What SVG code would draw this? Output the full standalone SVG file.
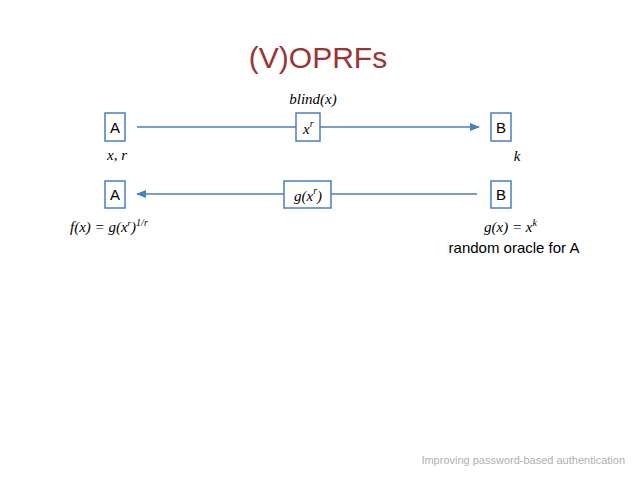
<svg xmlns="http://www.w3.org/2000/svg" width="638" height="478" viewBox="0 0 638 478">
<style>
.box{fill:#fff;stroke:#4a7fc1;stroke-width:1.5}
.lbl{font-family:"Liberation Sans",sans-serif;font-size:15px;fill:#000;text-anchor:middle}
.m{font-family:"Liberation Serif",serif;font-style:italic;font-size:15px;fill:#000}
.ln{stroke:#4a7fc1;stroke-width:1.5;fill:none}
</style>
<defs><marker id="ah" markerWidth="10" markerHeight="8" refX="9" refY="4" orient="auto" markerUnits="userSpaceOnUse"><path d="M0,0 L10,4 L0,8 Z" fill="#4a7fc1"/></marker></defs>
<rect width="638" height="478" fill="#fff"/>
<text x="318" y="68" font-family="Liberation Sans,sans-serif" font-size="30" fill="#9b3535" text-anchor="middle">(V)OPRFs</text>
<g id="connectors">
<line class="ln" x1="137" y1="127" x2="479" y2="127" marker-end="url(#ah)"/>
<line class="ln" x1="477" y1="194" x2="137" y2="194" marker-end="url(#ah)"/>
</g>
<g id="A1"><rect class="box" x="105" y="113" width="20" height="28"/><text class="lbl" x="115" y="133">A</text></g>
<g id="B1"><rect class="box" x="491" y="113" width="20" height="28"/><text class="lbl" x="501" y="133">B</text></g>
<g id="xr"><rect class="box" x="296" y="113" width="24" height="28"/><text class="m" x="303" y="134" font-size="16">x<tspan font-size="10" dy="-7">r</tspan></text></g>
<g id="A2"><rect class="box" x="105" y="181" width="20" height="27"/><text class="lbl" x="115" y="200">A</text></g>
<g id="B2"><rect class="box" x="491" y="181" width="20" height="27"/><text class="lbl" x="501" y="200">B</text></g>
<g id="gxr"><rect class="box" x="284" y="181" width="47" height="27"/><text class="m" x="294" y="201" font-size="16">g(x<tspan font-size="10" dy="-7">r</tspan><tspan dy="7">)</tspan></text></g>
<text class="m" x="313" y="104" text-anchor="middle">blind(x)</text>
<text class="m" x="117" y="160" text-anchor="middle">x, r</text>
<text class="m" x="517" y="161" text-anchor="middle">k</text>
<text class="m" x="70" y="232">f(x) = g(x<tspan font-size="9" dy="-6">r</tspan><tspan dy="6">)</tspan><tspan font-size="10" dy="-6">1/r</tspan></text>
<text class="m" x="484" y="232">g(x) = x<tspan font-size="10" dy="-6">k</tspan></text>
<text class="lbl" x="514" y="253">random oracle for A</text>
<text x="625" y="464" font-family="Liberation Sans,sans-serif" font-size="11" fill="#b0b0b0" text-anchor="end">Improving password-based authentication</text>
</svg>
